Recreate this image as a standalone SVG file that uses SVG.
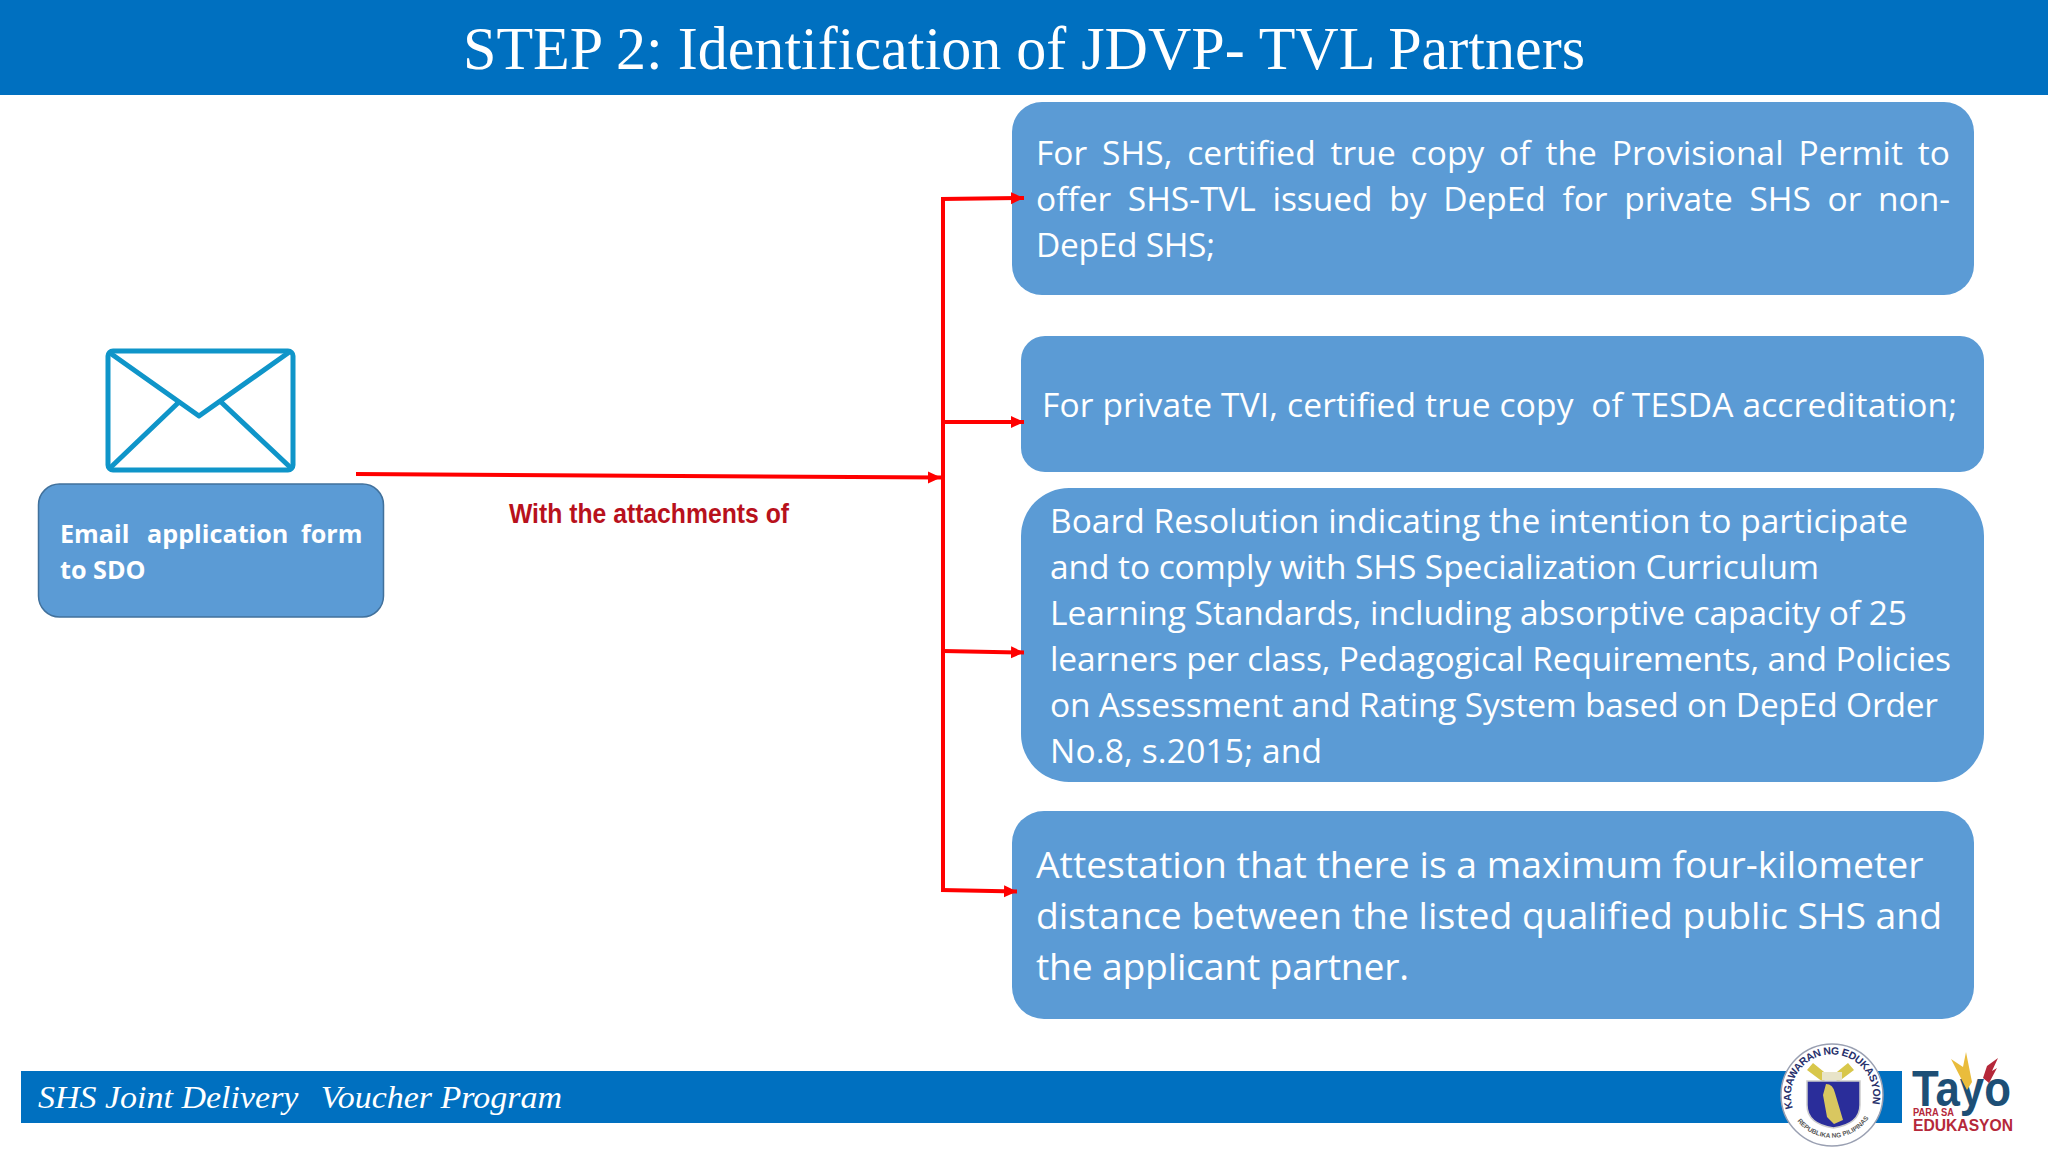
<svg xmlns="http://www.w3.org/2000/svg" width="2048" height="1152" viewBox="0 0 2048 1152">
<style>
.box{fill:#5b9bd5}
.t{font-family:"Open Sans","Noto Sans",sans-serif;fill:#fff;font-size:33.500px}
.l{font-size:37.300px}
.b{font-family:"Open Sans","Noto Sans",sans-serif;fill:#fff;font-size:25.200px;font-weight:700}
.c{fill:none;stroke:#f00;stroke-width:4}
.e{fill:none;stroke:#0f95c9;stroke-width:5;stroke-linejoin:round;stroke-linecap:round}
.s{font-family:"Liberation Sans",sans-serif;font-weight:700}
</style>
<defs>
<marker id="a" markerUnits="userSpaceOnUse" markerWidth="14" markerHeight="14" refX="13" refY="6" orient="auto"><path d="M0 0L13 6L0 12z" fill="#f00"/></marker>
<path id="sealTop" d="M1793 1108A41 41 0 1 1 1871 1108"/>
<path id="sealBot" d="M1794 1116A44 44 0 0 0 1870 1116"/>
</defs>
<rect width="2048" height="1152" fill="#fff"/>
<rect id="header" width="2048" height="95" fill="#0070c0"/>
<text x="1024" y="69" text-anchor="middle" textLength="1122" lengthAdjust="spacingAndGlyphs" font-family="Liberation Serif,serif" font-size="61" fill="#fff">STEP 2: Identification of JDVP- TVL Partners</text>

<g id="envelope">
<rect class="e" x="108" y="351" width="185" height="119" rx="5"/>
<path class="e" d="M110 353L199 416L288 353M179 402L110 468M221 402L291 468"/>
</g>
<g id="email-node">
<rect x="38.500" y="484" width="345" height="133" rx="21" fill="#5b9bd5" stroke="#41719c" stroke-width="1.500"/>
<text class="b" y="543"><tspan x="60">Email</tspan><tspan x="147">application</tspan><tspan x="301">form</tspan></text>
<text class="b" x="60" y="579">to SDO</text>
</g>
<g id="node-1">
<rect class="box" x="1012" y="102" width="962" height="193" rx="30"/>
<text class="t" x="1036" y="165" textLength="914" word-spacing="6">For SHS, certified true copy of the Provisional Permit to</text>
<text class="t" x="1036" y="211" textLength="914" word-spacing="8">offer SHS-TVL issued by DepEd for private SHS or non-</text>
<text class="t" x="1036" y="257" textLength="179">DepEd SHS;</text>
</g>
<g id="node-2">
<rect class="box" x="1021" y="336" width="963" height="136" rx="24"/>
<text class="t" x="1042" y="417" textLength="915" xml:space="preserve">For private TVI, certified true copy  of TESDA accreditation;</text>
</g>
<g id="node-3">
<rect class="box" x="1021" y="488" width="963" height="294" rx="48"/>
<text class="t" x="1050" y="533" textLength="858">Board Resolution indicating the intention to participate</text>
<text class="t" x="1050" y="579" textLength="769">and to comply with SHS Specialization Curriculum</text>
<text class="t" x="1050" y="625" textLength="857">Learning Standards, including absorptive capacity of 25</text>
<text class="t" x="1050" y="671" textLength="901">learners per class, Pedagogical Requirements, and Policies</text>
<text class="t" x="1050" y="717" textLength="888">on Assessment and Rating System based on DepEd Order</text>
<text class="t" x="1050" y="763" textLength="272">No.8, s.2015; and</text>
</g>
<g id="node-4">
<rect class="box" x="1012" y="811" width="962" height="208" rx="32"/>
<text class="t l" x="1036" y="878">Attestation that there is a maximum four-kilometer</text>
<text class="t l" x="1036" y="929">distance between the listed qualified public SHS and</text>
<text class="t l" x="1036" y="980" textLength="373">the applicant partner.</text>
</g>
<g id="connectors">
<path class="c" d="M356 474L941 477.500" marker-end="url(#a)"/>
<path class="c" d="M943 892V199"/>
<path class="c" d="M941 199L1024 198" marker-end="url(#a)"/>
<path class="c" d="M943 422L1024 422" marker-end="url(#a)"/>
<path class="c" d="M943 651L1024 652.500" marker-end="url(#a)"/>
<path class="c" d="M941 890L1017 891.500" marker-end="url(#a)"/>
</g>
<text id="attach-label" x="509" y="523" textLength="280" lengthAdjust="spacingAndGlyphs" font-family="Liberation Sans,sans-serif" font-size="28" font-weight="700" fill="#b8111c">With the attachments of</text>
<g id="footer">
<rect x="21" y="1071" width="1881" height="52" fill="#0070c0"/>
<text x="38" y="1108" font-family="Liberation Serif,serif" font-style="italic" font-size="32.500" fill="#fff" textLength="524" lengthAdjust="spacingAndGlyphs" xml:space="preserve">SHS Joint Delivery  <tspan dx="5">Voucher Program</tspan></text>
</g>
<g id="seal-logo">
<circle cx="1832" cy="1095" r="51" fill="#fff" stroke="#9aa0b2" stroke-width="1.500"/>
<text class="s" font-size="10.500" fill="#27306b"><textPath href="#sealTop" textLength="150">KAGAWARAN NG EDUKASYON</textPath></text>
<text class="s" font-size="6.500" fill="#555"><textPath href="#sealBot" startOffset="6">REPUBLIKA NG PILIPINAS</textPath></text>
<path d="M1813 1063l16 13-6 6-16-12zM1848 1063l-16 13 6 6 16-12z" fill="#d8c74a"/>
<rect x="1822" y="1072" width="20" height="8" fill="#e8e4c8"/>
<path d="M1807 1081h53v24q0 19-26.500 23q-26.500-4-26.500-23z" fill="#2a2d9a" stroke="#ccc" stroke-width="1.500"/>
<path d="M1826 1084q7 0 9 9l8 27-9 4-7-7-4-22z" fill="#d9c760"/>
</g>
<g id="tayo-logo">
<text x="1912" y="1106" font-family="Liberation Sans,sans-serif" font-size="50" font-weight="700" fill="#1d4f76" textLength="99" lengthAdjust="spacingAndGlyphs">Tayo</text>
<path d="M1951 1059l12 8 3-15 6 30-5 8z" fill="#e9bc3c"/>
<path d="M1983 1078l4-12 11-8-6 13 5-3-8 15z" fill="#b5283a"/>
<text class="s" x="1913" y="1116" font-size="11" fill="#b5283a" textLength="41" lengthAdjust="spacingAndGlyphs">PARA SA</text>
<text class="s" x="1913" y="1131" font-size="16.500" fill="#b5283a" textLength="100" lengthAdjust="spacingAndGlyphs">EDUKASYON</text>
</g>
</svg>
